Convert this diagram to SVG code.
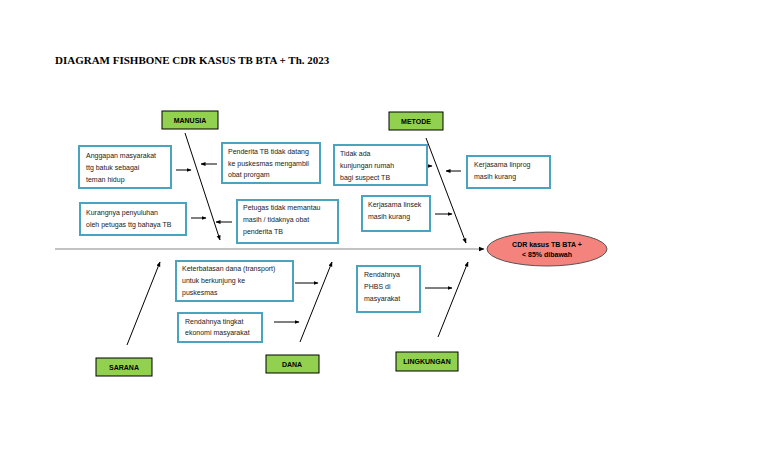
<svg xmlns="http://www.w3.org/2000/svg" width="768" height="466" viewBox="0 0 768 466">
<defs>
<marker id="ah" viewBox="0 0 10 10" refX="9" refY="5" markerWidth="5" markerHeight="5" orient="auto"><path d="M0,1 L10,5 L0,9 z" fill="#000"/></marker>
<style>
.cat{fill:#92d050;stroke:#000;stroke-width:1}
.ct{font-family:"Liberation Sans",Arial,sans-serif;font-size:7px;font-weight:bold;text-anchor:middle}
.b{fill:#fff;stroke:#4aa3bf;stroke-width:2}
.t{font-family:"Liberation Sans",Arial,sans-serif;font-size:7px;fill:#222}
.l{stroke:#000;stroke-width:1;fill:none;marker-end:url(#ah)}
</style>
</defs>
<rect width="768" height="466" fill="#fff"/>
<text x="55" y="64" font-family="Liberation Serif,serif" font-size="11" font-weight="bold">DIAGRAM FISHBONE CDR KASUS TB BTA + Th. 2023</text>
<g id="connectors">
<line x1="55" y1="249" x2="484" y2="249" stroke="#888" stroke-width="1.2" marker-end="url(#ah)"/>
<line class="l" x1="185" y1="133" x2="220" y2="240"/>
<line class="l" x1="426" y1="138" x2="466" y2="243"/>
<line class="l" x1="127" y1="345" x2="160" y2="262"/>
<line class="l" x1="300" y1="342" x2="332" y2="262"/>
<line class="l" x1="438" y1="337" x2="468" y2="262"/>
<line class="l" x1="176" y1="170" x2="191" y2="170"/>
<line class="l" x1="217" y1="164" x2="201" y2="164"/>
<line class="l" x1="191" y1="218" x2="206" y2="218"/>
<line class="l" x1="232" y1="222" x2="216" y2="222"/>
<line class="l" x1="418" y1="166" x2="432" y2="166"/>
<line class="l" x1="461" y1="171" x2="446" y2="171"/>
<line class="l" x1="435" y1="214" x2="452" y2="214"/>
<line class="l" x1="295" y1="283" x2="318" y2="283"/>
<line class="l" x1="274" y1="322" x2="299" y2="322"/>
<line class="l" x1="425" y1="288" x2="452" y2="288"/>
</g>
<g id="effect"><ellipse cx="547" cy="249" rx="60" ry="17" fill="#f4837d" stroke="#555"/>
<text class="ct" x="547" y="247" font-weight="normal">CDR kasus TB BTA +</text><text class="ct" x="547" y="257">&lt; 85% dibawah</text></g>
<g id="manusia"><rect class="cat" x="162" y="111" width="56" height="18"/><text class="ct" x="190" y="123">MANUSIA</text></g>
<g id="metode"><rect class="cat" x="389" y="112" width="54" height="18"/><text class="ct" x="416" y="124">METODE</text></g>
<g id="sarana"><rect class="cat" x="96" y="358" width="56" height="18"/><text class="ct" x="124" y="370">SARANA</text></g>
<g id="dana"><rect class="cat" x="266" y="355" width="53" height="18"/><text class="ct" x="292" y="367">DANA</text></g>
<g id="lingkungan"><rect class="cat" x="396" y="352" width="62" height="19"/><text class="ct" x="427" y="364">LINGKUNGAN</text></g>
<g id="n1"><rect class="b" x="79" y="146" width="92" height="42"/><text class="t" x="86" y="158">Anggapan masyarakat</text><text class="t" x="86" y="170">ttg batuk sebagai</text><text class="t" x="86" y="182">teman hidup</text></g>
<g id="n2"><rect class="b" x="222" y="143" width="98" height="40"/><text class="t" x="228" y="154">Penderita TB tidak datang</text><text class="t" x="228" y="166">ke puskesmas mengambil</text><text class="t" x="228" y="177">obat prorgam</text></g>
<g id="n3"><rect class="b" x="80" y="203" width="106" height="32"/><text class="t" x="86" y="215">Kurangnya penyuluhan</text><text class="t" x="86" y="227">oleh petugas ttg bahaya TB</text></g>
<g id="n4"><rect class="b" x="237" y="200" width="101" height="43"/><text class="t" x="243" y="210">Petugas tidak memantau</text><text class="t" x="243" y="222">masih / tidaknya obat</text><text class="t" x="243" y="234">penderita TB</text></g>
<g id="n5"><rect class="b" x="334" y="145" width="93" height="40"/><text class="t" x="340" y="156">Tidak ada</text><text class="t" x="340" y="168">kunjungan rumah</text><text class="t" x="340" y="180">bagi suspect TB</text></g>
<g id="n6"><rect class="b" x="467" y="156" width="83" height="32"/><text class="t" x="474" y="167">Kerjasama linprog</text><text class="t" x="474" y="179">masih kurang</text></g>
<g id="n7"><rect class="b" x="362" y="196" width="68" height="35"/><text class="t" x="368" y="207">Kerjasama linsek</text><text class="t" x="368" y="219">masih kurang</text></g>
<g id="n8"><rect class="b" x="176" y="261" width="117" height="40"/><text class="t" x="182" y="271">Keterbatasan dana (transport)</text><text class="t" x="182" y="283">untuk berkunjung ke</text><text class="t" x="182" y="295">puskesmas</text></g>
<g id="n9"><rect class="b" x="178" y="313" width="84" height="29"/><text class="t" x="185" y="324">Rendahnya tingkat</text><text class="t" x="185" y="335">ekonomi masyarakat</text></g>
<g id="n10"><rect class="b" x="357" y="266" width="63" height="46"/><text class="t" x="364" y="277">Rendahnya</text><text class="t" x="364" y="289">PHBS di</text><text class="t" x="364" y="301">masyarakat</text></g>
</svg>
